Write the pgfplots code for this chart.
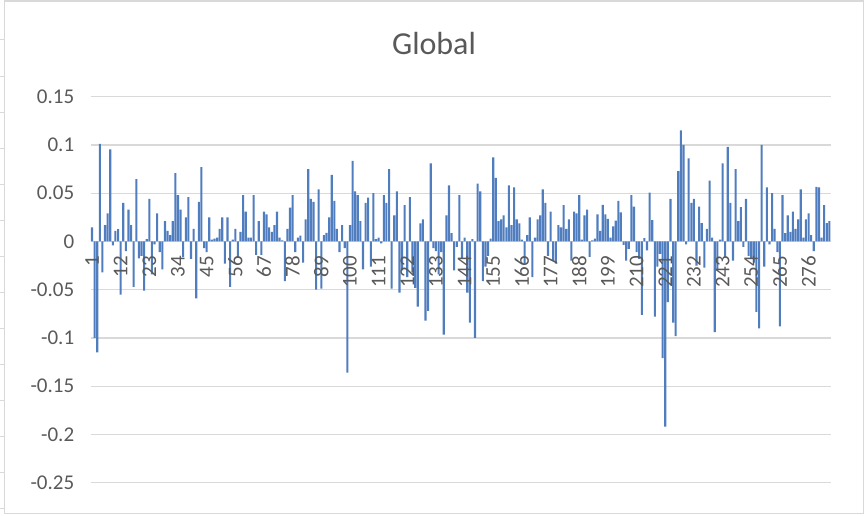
\documentclass[border=0pt]{standalone}
\usepackage{pgfplots}
\usepackage{pgfplotstable}
\pgfplotsset{compat=1.18}
\usepackage{fontspec}
\setmainfont{Carlito}
\definecolor{barblue}{HTML}{4F7DBE}
\definecolor{txtgray}{HTML}{595959}
\definecolor{gridgray}{HTML}{D9D9D9}
\pgfplotstableread{
k v
1 0.0145
2 -0.100
3 -0.115
4 0.101
5 -0.032
6 0.017
7 0.029
8 0.0955
9 -0.004
10 0.011
11 0.0128
12 -0.055
13 0.040
14 -0.010
15 0.033
16 0.017
17 -0.047
18 0.0645
19 -0.0176
20 -0.015
21 -0.051
22 0.0024
23 0.044
24 -0.034
25 -0.003
26 0.029
27 -0.011
28 -0.029
29 0.021
30 0.011
31 0.0066
32 0.021
33 0.0707
34 0.048
35 0.033
36 -0.016
37 0.025
38 0.046
39 -0.018
40 0.013
41 -0.059
42 0.041
43 0.077
44 -0.007
45 -0.011
46 0.025
47 0.002
48 0.003
49 0.004
50 0.013
51 0.025
52 -0.023
53 0.025
54 -0.047
55 0.002
56 0.013
57 -0.017
58 0.010
59 0.048
60 0.031
61 0.004
62 0.004
63 0.048
64 -0.014
65 0.021
66 -0.014
67 0.031
68 0.028
69 0.0145
70 0.010
71 0.017
72 0.031
73 0.004
74 0.001
75 -0.041
76 0.013
77 0.035
78 0.048
79 -0.011
80 0.004
81 0.006
82 -0.022
83 0.023
84 0.075
85 0.044
86 0.041
87 -0.050
88 0.054
89 -0.049
90 0.0066
91 0.009
92 0.025
93 0.069
94 0.042
95 0.013
96 -0.011
97 0.017
98 -0.007
99 -0.136
100 0.017
101 0.0834
102 0.052
103 0.048
104 0.021
105 -0.029
106 0.040
107 0.0455
108 -0.026
109 0.050
110 0.0024
111 0.004
112 -0.002
113 0.048
114 0.040
115 0.075
116 -0.049
117 0.027
118 0.052
119 -0.053
120 -0.030
121 0.0376
122 -0.037
123 0.046
124 -0.032
125 -0.048
126 -0.0676
127 0.0186
128 0.023
129 -0.082
130 -0.072
131 0.081
132 -0.007
133 -0.010
134 -0.034
135 -0.011
136 -0.0966
137 0.027
138 0.058
139 0.0086
140 -0.030
141 -0.0055
142 0.048
143 -0.017
144 0.004
145 -0.053
146 -0.084
147 0.0024
148 -0.100
149 0.060
150 0.052
151 -0.041
152 -0.026
153 -0.015
154 0.003
155 0.087
156 0.066
157 0.021
158 0.023
159 0.027
160 0.0145
161 0.058
162 0.017
163 0.056
164 0.023
165 0.0186
166 0.002
167 -0.023
168 0.0066
169 0.025
170 -0.037
171 0.004
172 0.023
173 0.027
174 0.054
175 0.040
176 -0.015
177 0.031
178 -0.020
179 -0.023
180 0.017
181 0.0145
182 0.0376
183 0.013
184 0.023
185 -0.020
186 0.031
187 0.029
188 0.048
189 0.002
190 0.027
191 0.033
192 -0.016
193 0.001
194 0.003
195 0.028
196 0.011
197 0.038
198 0.028
199 0.0235
200 0.004
201 0.0156
202 0.0215
203 0.042
204 0.030
205 -0.0035
206 -0.020
207 -0.0076
208 0.048
209 0.036
210 -0.011
211 -0.018
212 -0.076
213 0.0035
214 -0.0093
215 0.0505
216 0.022
217 -0.078
218 -0.026
219 -0.013
220 -0.121
221 -0.192
222 -0.063
223 0.044
224 -0.084
225 -0.098
226 0.073
227 0.115
228 0.100
229 -0.003
230 0.086
231 0.040
232 0.044
233 -0.025
234 0.036
235 0.019
236 -0.027
237 0.013
238 0.063
239 0.004
240 -0.094
241 -0.030
242 0.002
243 0.081
244 -0.016
245 0.098
246 0.040
247 -0.020
248 0.075
249 0.021
250 0.0355
251 -0.0055
252 0.044
253 -0.015
254 -0.017
255 -0.022
256 -0.073
257 -0.090
258 0.100
259 -0.026
260 0.056
261 -0.003
262 0.050
263 0.013
264 -0.011
265 -0.088
266 0.048
267 0.0086
268 0.027
269 0.010
270 0.031
271 0.013
272 0.023
273 0.054
274 0.004
275 0.023
276 0.029
277 0.0066
278 -0.010
279 0.0565
280 0.056
281 0.004
282 0.0376
283 0.019
284 0.021
}\globaldata
\pgfplotsset{
  commonaxis/.style={
    at={(90.7bp,33.3bp)}, anchor=south west,
    scale only axis, width=740bp, height=386bp,
    xmin=0.5, xmax=284.5, ymin=-0.25, ymax=0.15,
    enlargelimits=false,
    xtick={1,12,...,276},
    ytick={-0.25,-0.2,-0.15,-0.1,-0.05,0,0.05,0.1,0.15},
    major tick length=0pt,
  }
}
\begin{document}
\begin{tikzpicture}
\path[use as bounding box] (0,0) rectangle (864bp,516bp);
\draw[gridgray, line width=1.2bp] (4.5bp,2.7bp) rectangle (863.2bp,515bp);
\foreach \yy in {476,439.9,403.9,367.8,331.8,295.7,259.7,223.6,187.6,151.5,115.5,79.4,43.4,7.3}
  \draw[gridgray, line width=1bp] (0bp,\yy bp) -- (4.5bp,\yy bp);
% axis 1: grid, zero line and bars
\begin{axis}[
  commonaxis,
  axis line style={draw=none},
  xtick=\empty,
  yticklabel={\relax},
  ymajorgrids, grid style={gridgray, line width=1.2bp},
]
\addplot[ybar, fill=barblue, draw=none, bar width=0.8] table[x=k, y=v]{\globaldata};
\end{axis}
% axis 2: tick labels on top of the bars
\begin{axis}[
  commonaxis,
  axis line style={draw=none},
  yticklabels={-0.25,-0.2,-0.15,-0.1,-0.05,0,0.05,0.1,0.15},
  /pgf/number format/assume math mode=true,
  tick label style={font=\fontsize{21bp}{24bp}\selectfont, text=txtgray},
  xticklabel style={yshift=230.5bp, rotate=90, anchor=east},
  yticklabel style={anchor=east, xshift=-13bp},
]
\addplot[draw=none] coordinates {(1,0) (2,0)};
\end{axis}
\node[font=\fontsize{32bp}{38bp}\selectfont, text=txtgray, anchor=base] at (434bp,461bp) {Global};
\end{tikzpicture}
\end{document}
